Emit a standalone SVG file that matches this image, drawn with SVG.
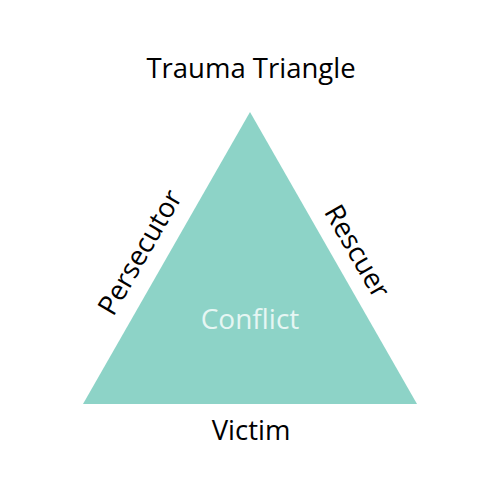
<svg xmlns="http://www.w3.org/2000/svg" width="500" height="500" viewBox="0 0 500 500">
<style>
.t{font-family:"Comic Sans MS","Open Sans",sans-serif;font-size:27.5px;fill:#000;text-anchor:middle}
.c{font-family:"Comic Sans MS","Open Sans",sans-serif;font-size:28px;fill:#e6f6f3;text-anchor:middle}
</style>
<rect width="500" height="500" fill="#fff"/>
<text class="t" x="251" y="78">Trauma Triangle</text>
<g id="triangle">
<polygon points="250,112 83,404 417,404" fill="#8dd3c7"/>
<text class="c" x="250" y="329">Conflict</text>
</g>
<g id="persecutor"><text class="t" transform="translate(148,257) rotate(-60)">Persecutor</text></g>
<g id="rescuer"><text class="t" transform="translate(349,256) rotate(60)">Rescuer</text></g>
<g id="victim"><text class="t" x="251" y="440">Victim</text></g>
<g id="connectors"/>
</svg>
